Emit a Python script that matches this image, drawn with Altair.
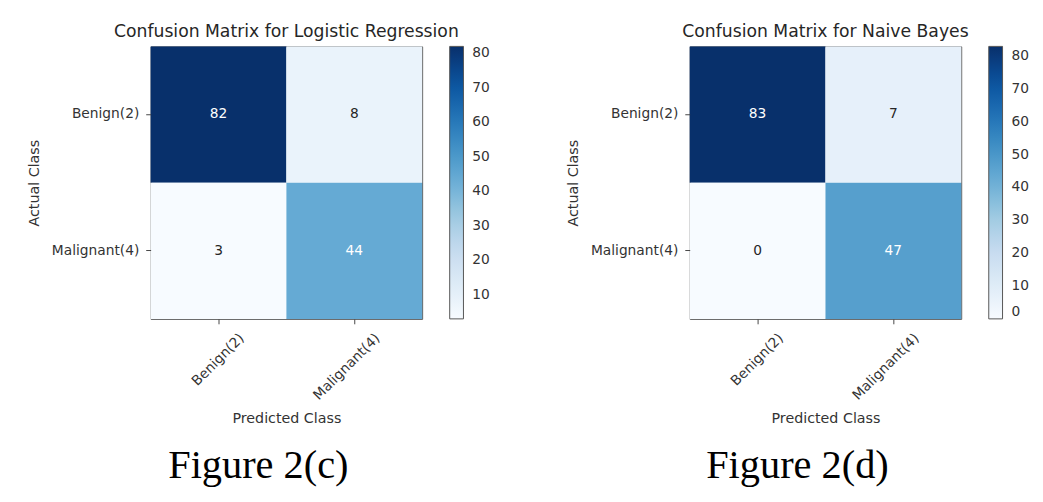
import altair as alt
import pandas as pd
import numpy as np

classes = ["Benign(2)", "Malignant(4)"]
lr_values = [[82, 8], [3, 44]]
nb_values = [[83, 7], [0, 47]]
lr_ticks = [10, 20, 30, 40, 50, 60, 70, 80]
nb_ticks = [0, 10, 20, 30, 40, 50, 60, 70, 80]
lr_title = "Confusion Matrix for Logistic Regression"
nb_title = "Confusion Matrix for Naive Bayes"
lr_caption = "Figure 2(c)"
nb_caption = "Figure 2(d)"
blues = ["#f7fbff", "#deebf7", "#c6dbef", "#9ecae1", "#6baed6",
         "#4292c6", "#2171b5", "#08519c", "#08306b"]

FONT = "DejaVu Sans"
TXT = "#333333"


def panel(values, title, caption, ticks):
    rows = []
    vmax = max(max(r) for r in values)
    vmin = min(min(r) for r in values)
    for i, a in enumerate(classes):
        for j, p in enumerate(classes):
            v = values[i][j]
            rows.append({"actual": a, "predicted": p, "count": v,
                         "dark": bool(v > vmax / 2)})
    df = pd.DataFrame(rows)
    domain = [float(d) for d in np.linspace(vmin, vmax, len(blues))]

    base = alt.Chart(df).encode(
        x=alt.X("predicted:N", sort=classes,
                scale=alt.Scale(paddingInner=0, paddingOuter=0),
                axis=alt.Axis(title="Predicted Class", labelAngle=315,
                              labelAlign="right", labelBaseline="middle",
                              labelOffset=24, labelPadding=12,
                              titlePadding=9)),
        y=alt.Y("actual:N", sort=classes,
                scale=alt.Scale(paddingInner=0, paddingOuter=0),
                axis=alt.Axis(title="Actual Class", labelPadding=7,
                              titlePadding=10)),
    )
    rect = base.mark_rect().encode(
        color=alt.Color("count:Q",
                        scale=alt.Scale(domain=domain, range=blues),
                        legend=alt.Legend(title=None, values=ticks,
                                          orient="right", offset=28,
                                          gradientLength=277,
                                          gradientThickness=14,
                                          gradientStrokeColor="#555555",
                                          gradientStrokeWidth=1,
                                          labelFont=FONT,
                                          labelFontSize=14,
                                          labelColor=TXT,
                                          labelOffset=9))
    )
    text = base.mark_text(font=FONT, fontSize=14).encode(
        text="count:Q",
        color=alt.condition(alt.datum.dark, alt.value("white"),
                            alt.value("#262626")),
    )
    layer = alt.layer(rect, text).properties(
        width=276, height=277,
        title=alt.TitleParams(title, font=FONT, fontSize=17.5,
                              fontWeight="normal", color="#262626",
                              frame="group", anchor="middle", offset=6),
    )
    return alt.vconcat(layer, title=alt.TitleParams(
        caption, orient="bottom", font="Liberation Serif", fontSize=41,
        fontWeight="normal", color="#000000", anchor="middle", offset=22,
    )).resolve_scale(color="independent")


chart = alt.hconcat(
    panel(lr_values, lr_title, lr_caption, lr_ticks),
    panel(nb_values, nb_title, nb_caption, nb_ticks),
    spacing=75,
).resolve_scale(color="independent").properties(
    padding={"left": 18, "top": 11, "right": 5, "bottom": 5},
    background="white",
).configure_view(
    stroke="#555555", strokeWidth=1
).configure_axis(
    labelFont=FONT, titleFont=FONT, labelFontSize=14, titleFontSize=14.5,
    labelColor=TXT, titleColor=TXT, titleFontWeight="normal",
    tickColor="#444444", tickSize=5, domain=False, grid=False,
)

chart.save("out.html", embed_options={"renderer": "svg", "actions": False})
